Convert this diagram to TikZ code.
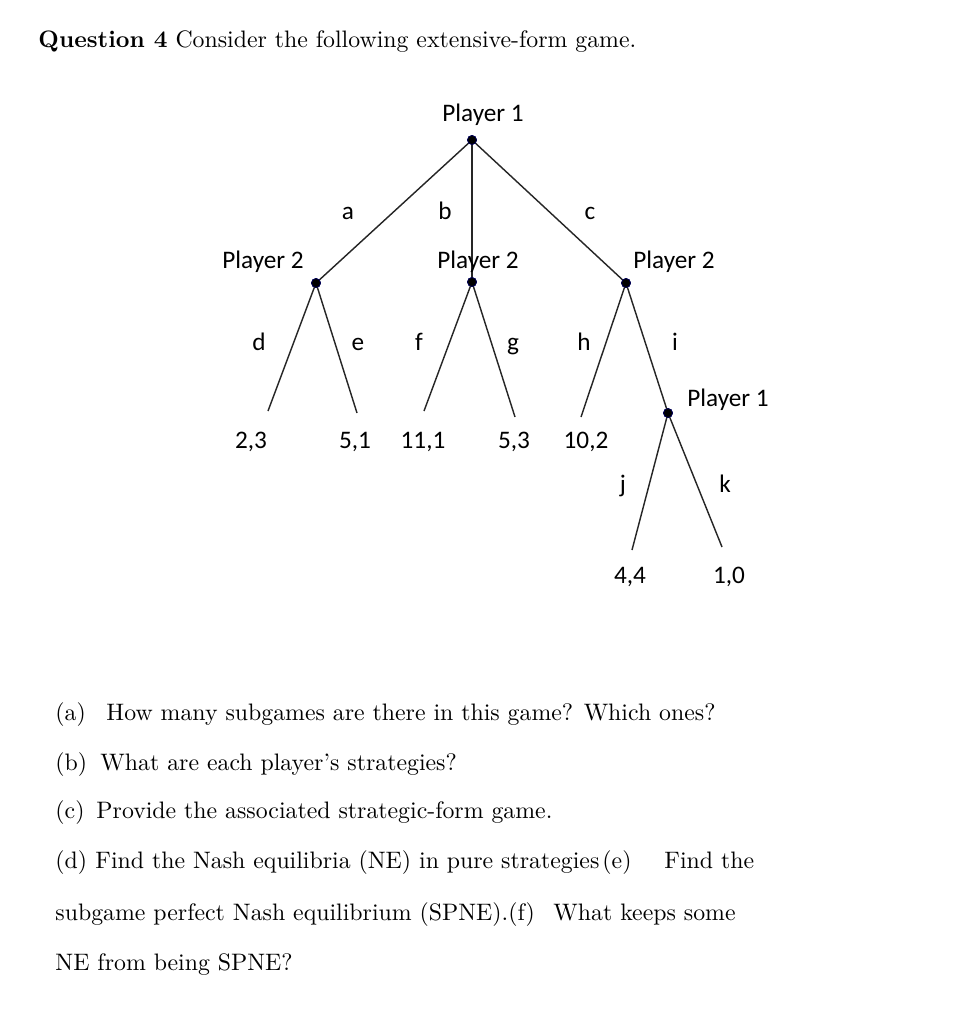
\documentclass[tikz,border=0pt]{standalone}
\usepackage{fontspec}
\newfontfamily\calfont{Carlito}
\begin{document}
\begin{tikzpicture}[x=0.42pt,y=-0.42pt,
  dot/.style={circle,fill=black,draw=blue!35!black,line width=0.3pt,inner sep=0pt,minimum size=3.8pt},
  edge/.style={line width=0.6pt,black!85},
  lbl/.style={anchor=base,inner sep=0pt,font=\calfont\fontsize{10.6}{12}\selectfont},
  body/.style={anchor=base west,inner sep=0pt,font=\fontsize{10}{12}\selectfont}]
\useasboundingbox (0,0) rectangle (959,1024);
% title
\node[body] (title) at (38,48) {\textbf{Question 4} Consider the following extensive-form game.};
% nodes
\node[dot] (r) at (472,140) {};
\node[dot] (p2l) at (316,283) {};
\node[dot] (p2m) at (472,282) {};
\node[dot] (p2r) at (626,283) {};
\node[dot] (p1s) at (668,413) {};
\coordinate (td) at (268,411);
\coordinate (te) at (357,413);
\coordinate (tf) at (424,411);
\coordinate (tg) at (515,417);
\coordinate (th) at (581,417);
\coordinate (tj) at (632,550);
\coordinate (tk) at (722,547);
% edges
\draw[edge] (r.center) -- (p2l.center);
\draw[edge] (r.center) -- (p2m.center);
\draw[edge] (r.center) -- (p2r.center);
\draw[edge] (p2l.center) -- (td);
\draw[edge] (p2l.center) -- (te);
\draw[edge] (p2m.center) -- (tf);
\draw[edge] (p2m.center) -- (tg);
\draw[edge] (p2r.center) -- (th);
\draw[edge] (p2r.center) -- (p1s.center);
\draw[edge] (p1s.center) -- (tj);
\draw[edge] (p1s.center) -- (tk);
\foreach \n in {r,p2l,p2m,p2r,p1s} \node[dot] at (\n) {};
% labels
\node[lbl] (lr) at (483,122) {Player 1};
\node[lbl] (l2l) at (263,268) {Player 2};
\node[lbl] (l2m) at (478,268) {Player 2};
\node[lbl] (l2r) at (674,268) {Player 2};
\node[lbl] (la) at (348,219) {a};
\node[lbl] (lb) at (445,219) {b};
\node[lbl] (lc) at (590,219) {c};
\node[lbl] (ld) at (259,350) {d};
\node[lbl] (le) at (358,350) {e};
\node[lbl] (lf) at (419,350) {f};
\node[lbl] (lg) at (513,350) {g};
\node[lbl] (lh) at (584,350) {h};
\node[lbl] (li) at (675,350) {i};
\node[lbl] (l1s) at (728,406) {Player 1};
\node[lbl] (o1) at (251,448) {2,3};
\node[lbl] (o2) at (355,448) {5,1};
\node[lbl] (o3) at (423,448) {11,1};
\node[lbl] (o4) at (514,448) {5,3};
\node[lbl] (o5) at (586,448) {10,2};
\node[lbl] (lj) at (623,492) {j};
\node[lbl] (lk) at (725,492) {k};
\node[lbl] (o6) at (630,583) {4,4};
\node[lbl] (o7) at (729,583) {1,0};
% questions
\node[body] (qa) at (55,720) {(a)};
\node[body] (qat) at (106,720) {How many subgames are there in this game? Which ones?};
\node[body] (qb) at (55,770) {(b)};
\node[body] (qbt) at (100,770) {What are each player's strategies?};
\node[body] (qc) at (55,818) {(c)};
\node[body] (qct) at (96,818) {Provide the associated strategic-form game.};
\node[body] (qd) at (55,868) {(d)};
\node[body] (qdt) at (95,868) {Find the Nash equilibria (NE) in pure strategies};
\node[body] (qe) at (602,868) {(e)};
\node[body] (qet) at (664,868) {Find the};
\node[body] (qe2) at (55,920) {subgame perfect Nash equilibrium (SPNE).(f)};
\node[body] (qft) at (553,920) {What keeps some};
\node[body] (qf2) at (55,970) {NE from being SPNE?};
\end{tikzpicture}
\end{document}
